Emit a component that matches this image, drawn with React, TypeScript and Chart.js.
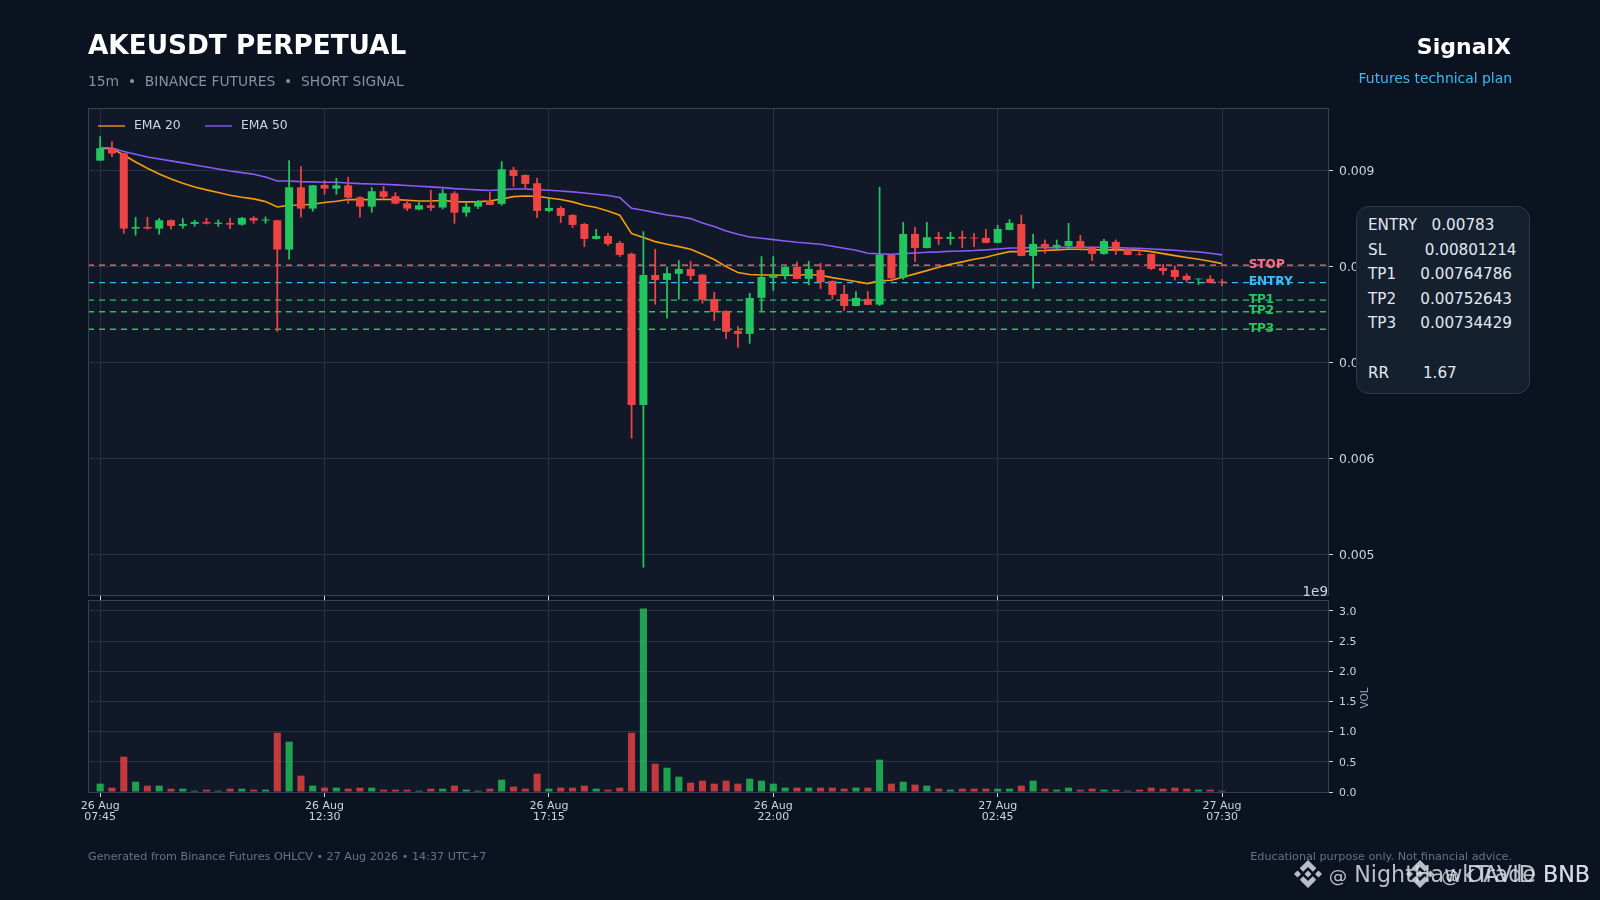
import React, { useEffect, useRef } from "react";
import { Chart, registerables } from "chart.js";

Chart.register(...registerables);

const FONT = '"DejaVu Sans", sans-serif';

const TITLE = "AKEUSDT PERPETUAL";
const SUBTITLE = "15m  •  BINANCE FUTURES  •  SHORT SIGNAL";
const BRAND = "SignalX";
const BRAND_SUB = "Futures technical plan";
const FOOT_LEFT = "Generated from Binance Futures OHLCV • 27 Aug 2026 • 14:37 UTC+7";
const FOOT_RIGHT = "Educational purpose only. Not financial advice.";
const INFO_LINES = [
  "ENTRY   0.00783",
  "SL        0.00801214",
  "TP1     0.00764786",
  "TP2     0.00752643",
  "TP3     0.00734429",
  " ",
  "RR       1.67",
];

const opens = [
  0.009101, 0.00923, 0.009177, 0.008393, 0.00841, 0.008393, 0.00848, 0.008421, 0.008441, 0.008462,
  0.008441, 0.008452, 0.008434, 0.008504, 0.008476, 0.00848, 0.008174, 0.008823, 0.008601, 0.008848,
  0.008809, 0.008844, 0.008719, 0.008622, 0.008782, 0.00873, 0.008657, 0.008591, 0.008636, 0.008612,
  0.008761, 0.008559, 0.008622, 0.008681, 0.00865, 0.009004, 0.008952, 0.008865, 0.008577, 0.008608,
  0.008535, 0.008441, 0.008285, 0.008316, 0.008244, 0.008132, 0.006556, 0.00791, 0.007858, 0.007921,
  0.007973, 0.007914, 0.00766, 0.007535, 0.007327, 0.007296, 0.007671, 0.00788, 0.00791, 0.007994,
  0.007869, 0.007962, 0.007848, 0.007712, 0.007587, 0.00766, 0.007601, 0.008119, 0.007882, 0.008337,
  0.008191, 0.008306, 0.008285, 0.008306, 0.008299, 0.008296, 0.008244, 0.008379, 0.008441, 0.008108,
  0.008233, 0.008202, 0.008212, 0.008264, 0.008202, 0.008129, 0.008254, 0.008178, 0.008125, 0.008129,
  0.007983, 0.007962, 0.0079, 0.007865, 0.007869, 0.007841,
];
const highs = [
  0.009351, 0.009299, 0.009177, 0.008511, 0.008511, 0.0085, 0.008483, 0.008497, 0.00848, 0.0085,
  0.008483, 0.0085, 0.008511, 0.008518, 0.008514, 0.00848, 0.009101, 0.009039, 0.008844, 0.008893,
  0.008917, 0.008928, 0.008726, 0.00882, 0.008834, 0.008768, 0.008698, 0.008664, 0.008792, 0.008803,
  0.008778, 0.008657, 0.008685, 0.008771, 0.009091, 0.009032, 0.008952, 0.008917, 0.008698, 0.008622,
  0.00854, 0.008448, 0.008386, 0.008344, 0.008261, 0.00814, 0.008362, 0.008178, 0.00799, 0.00806,
  0.008053, 0.007914, 0.00773, 0.007535, 0.007372, 0.007719, 0.008101, 0.008101, 0.007994, 0.008046,
  0.008053, 0.008032, 0.007848, 0.007803, 0.007737, 0.007737, 0.008823, 0.008119, 0.008459, 0.008407,
  0.008459, 0.008355, 0.008355, 0.008368, 0.008344, 0.008386, 0.008428, 0.008487, 0.008532, 0.008334,
  0.008275, 0.008275, 0.008448, 0.008323, 0.008202, 0.008282, 0.008275, 0.008188, 0.008171, 0.008129,
  0.008021, 0.008004, 0.007921, 0.007872, 0.007903, 0.007865,
];
const lows = [
  0.009101, 0.009143, 0.008344, 0.008323, 0.008386, 0.008334, 0.008386, 0.008396, 0.008417, 0.008441,
  0.008414, 0.008393, 0.008428, 0.008448, 0.008448, 0.00732, 0.008073, 0.008511, 0.008573, 0.00875,
  0.00875, 0.008657, 0.008511, 0.008563, 0.008702, 0.00865, 0.00858, 0.008587, 0.00858, 0.008598,
  0.008448, 0.008521, 0.008601, 0.008639, 0.008636, 0.00883, 0.008813, 0.008507, 0.00857, 0.008455,
  0.008403, 0.008205, 0.008282, 0.008216, 0.008101, 0.006209, 0.004865, 0.007605, 0.007459, 0.007657,
  0.007858, 0.007615, 0.007435, 0.007247, 0.007157, 0.007198, 0.007528, 0.007747, 0.007865, 0.007869,
  0.007806, 0.007768, 0.007657, 0.007539, 0.007587, 0.007598, 0.007591, 0.007865, 0.007865, 0.008049,
  0.008191, 0.008226, 0.008226, 0.008195, 0.008205, 0.008244, 0.008244, 0.008379, 0.008108, 0.007771,
  0.008136, 0.008171, 0.008184, 0.008164, 0.00806, 0.008125, 0.008122, 0.008119, 0.008115, 0.007966,
  0.007914, 0.007858, 0.007834, 0.00781, 0.007827, 0.007799,
];
const closes = [
  0.00923, 0.009174, 0.008393, 0.00841, 0.008393, 0.00848, 0.008421, 0.008441, 0.008462, 0.008445,
  0.008455, 0.008434, 0.008504, 0.008476, 0.008487, 0.008174, 0.008823, 0.008601, 0.008844, 0.008809,
  0.008844, 0.008716, 0.008622, 0.008782, 0.008723, 0.008653, 0.008601, 0.008636, 0.008608, 0.008761,
  0.008559, 0.008622, 0.008678, 0.008639, 0.009011, 0.008941, 0.008858, 0.008577, 0.008608, 0.008525,
  0.008431, 0.008285, 0.008316, 0.008233, 0.008119, 0.006556, 0.00791, 0.007858, 0.007928, 0.007973,
  0.0079, 0.00765, 0.007525, 0.007317, 0.007296, 0.007671, 0.007889, 0.00791, 0.007994, 0.007869,
  0.007973, 0.007834, 0.007702, 0.007587, 0.007671, 0.007598, 0.008119, 0.007875, 0.008337, 0.008191,
  0.008303, 0.008285, 0.008306, 0.008289, 0.008289, 0.008244, 0.008389, 0.008452, 0.008108, 0.008233,
  0.008202, 0.008223, 0.008264, 0.008191, 0.008129, 0.008264, 0.008178, 0.008119, 0.008119, 0.007973,
  0.007952, 0.007889, 0.007858, 0.007872, 0.007827, 0.00783,
];
const ema20 = [
  0.00923, 0.009226, 0.00916, 0.009087, 0.009021, 0.008962, 0.00891, 0.008865, 0.008827, 0.008796,
  0.008768, 0.00874, 0.008719, 0.008702, 0.008674, 0.008618, 0.008636, 0.008639, 0.008646, 0.008664,
  0.008678, 0.008695, 0.008695, 0.008695, 0.008698, 0.008695, 0.008688, 0.008681, 0.008681, 0.008685,
  0.008674, 0.008671, 0.008674, 0.008681, 0.008702, 0.008726, 0.008733, 0.00873, 0.008712, 0.008695,
  0.008671, 0.008636, 0.008612, 0.008577, 0.008532, 0.008341, 0.008299, 0.008257, 0.00823, 0.008205,
  0.008178, 0.008125, 0.00807, 0.007997, 0.007935, 0.007914, 0.00791, 0.00791, 0.007907, 0.007907,
  0.007914, 0.007907, 0.007882, 0.007862, 0.007841, 0.00782, 0.007851, 0.007855, 0.007889, 0.007921,
  0.007955, 0.00799, 0.008021, 0.008046, 0.008073, 0.008094, 0.008125, 0.008153, 0.008153, 0.00816,
  0.008164, 0.008171, 0.008178, 0.008178, 0.008174, 0.008171, 0.008171, 0.008171, 0.008167, 0.008153,
  0.008132, 0.008111, 0.008091, 0.008073, 0.008053, 0.008028,
];
const ema50 = [
  0.009237, 0.009233, 0.009195, 0.009167, 0.009139, 0.009118, 0.009098, 0.009077, 0.009056, 0.009035,
  0.009014, 0.008993, 0.008976, 0.008959, 0.008931, 0.008889, 0.008889, 0.008882, 0.008879, 0.008875,
  0.008875, 0.008868, 0.008861, 0.008858, 0.008855, 0.008848, 0.008841, 0.008834, 0.008827, 0.00882,
  0.008809, 0.008802, 0.008796, 0.008789, 0.008799, 0.008806, 0.008806, 0.008799, 0.008792, 0.008785,
  0.008775, 0.008764, 0.00875, 0.008737, 0.008716, 0.008605, 0.008584, 0.008559, 0.008535, 0.008518,
  0.008497, 0.008452, 0.008414, 0.008368, 0.008334, 0.008306, 0.008292, 0.008278, 0.008264, 0.00825,
  0.00824, 0.00823, 0.008209, 0.008188, 0.008167, 0.008136, 0.008129, 0.008125, 0.008132, 0.008139,
  0.008146, 0.00815, 0.008157, 0.00816, 0.008164, 0.008171, 0.008181, 0.008191, 0.008191, 0.008195,
  0.008195, 0.008195, 0.008198, 0.008198, 0.008198, 0.008198, 0.008195, 0.008191, 0.008188, 0.008181,
  0.008174, 0.008167, 0.008157, 0.00815, 0.008136, 0.008119,
];
// volume, in units of 1e9
const volumes = [
  0.138, 0.072, 0.586, 0.171, 0.105, 0.105, 0.055, 0.055, 0.022, 0.039,
  0.022, 0.055, 0.055, 0.039, 0.039, 0.983, 0.834, 0.271, 0.105, 0.072,
  0.072, 0.055, 0.072, 0.072, 0.039, 0.039, 0.039, 0.022, 0.055, 0.055,
  0.105, 0.039, 0.022, 0.055, 0.204, 0.088, 0.055, 0.304, 0.055, 0.072,
  0.072, 0.105, 0.055, 0.039, 0.072, 0.983, 3.04, 0.47, 0.403, 0.254,
  0.155, 0.188, 0.138, 0.188, 0.138, 0.221, 0.188, 0.138, 0.072, 0.072,
  0.072, 0.072, 0.072, 0.055, 0.072, 0.072, 0.536, 0.138, 0.171, 0.122,
  0.105, 0.055, 0.039, 0.055, 0.055, 0.055, 0.055, 0.055, 0.105, 0.188,
  0.055, 0.039, 0.072, 0.039, 0.055, 0.039, 0.039, 0.022, 0.039, 0.072,
  0.055, 0.072, 0.055, 0.039, 0.039, 0.022,
];

const timeTickIndex = [0, 19, 38, 57, 76, 95];
const timeTickLabels = [
  ["26 Aug", "07:45"],
  ["26 Aug", "12:30"],
  ["26 Aug", "17:15"],
  ["26 Aug", "22:00"],
  ["27 Aug", "02:45"],
  ["27 Aug", "07:30"],
];
const priceTicks = [0.005, 0.006, 0.007, 0.008, 0.009];
const volumeTicks = [0, 0.5, 1, 1.5, 2, 2.5, 3];

const levelNames = ["STOP", "ENTRY", "TP1", "TP2", "TP3"];
const levelValues = [0.00801214, 0.00783, 0.00764786, 0.00752643, 0.00734429];
const levelColors = ["#fb7185", "#38bdf8", "#22c55e", "#22c55e", "#22c55e"];

const UP = "#22c55e";
const DOWN = "#ef4444";
const UP_VOL = "rgba(34,197,94,0.8)";
const DOWN_VOL = "rgba(239,68,68,0.8)";
const PLOT_BG = "#111827";
const GRID = "#283342";
const FRAME = "#334155";
const TICK = "#cbd5e1";

const X_MIN = -1.03;
const X_MAX = 103.97;
const LEFT = 88;
const AXIS_W = 60;
const PAD_RIGHT = 212;

const isUp = (i: number) => closes[i] >= opens[i];

const panelPlugin = {
  id: "panel",
  beforeDraw(chart: any) {
    const { ctx, chartArea: a } = chart;
    ctx.save();
    ctx.fillStyle = PLOT_BG;
    ctx.fillRect(a.left, a.top, a.right - a.left, a.bottom - a.top);
    ctx.restore();
  },
  afterDraw(chart: any) {
    const { ctx, chartArea: a } = chart;
    ctx.save();
    ctx.strokeStyle = FRAME;
    ctx.lineWidth = 1;
    ctx.strokeRect(a.left + 0.5, a.top + 0.5, a.right - a.left, a.bottom - a.top);
    ctx.restore();
  },
};

const overlayPlugin = {
  id: "overlay",
  afterDatasetsDraw(chart: any) {
    const { ctx, scales } = chart;
    ctx.save();
    ctx.textBaseline = "middle";
    ctx.textAlign = "left";
    ctx.font = `bold 12.1px ${FONT}`;
    levelNames.forEach((name, i) => {
      ctx.fillStyle = levelColors[i];
      ctx.fillText(name, scales.x.getPixelForValue(97.25), scales.y.getPixelForValue(levelValues[i]) - 0.7);
    });
    // legend
    const y = chart.chartArea.top + 18;
    const items = chart.data.datasets.filter((d: any) => d.label);
    let x = chart.chartArea.left + 10;
    ctx.font = `12.4px ${FONT}`;
    items.forEach((d: any) => {
      ctx.strokeStyle = d.borderColor;
      ctx.globalAlpha = 0.85;
      ctx.lineWidth = 1.6;
      ctx.beginPath();
      ctx.moveTo(x, y);
      ctx.lineTo(x + 27, y);
      ctx.stroke();
      ctx.globalAlpha = 1;
      ctx.fillStyle = TICK;
      ctx.fillText(d.label, x + 36, y);
      x += 107;
    });
    ctx.restore();
  },
};

const xScale = (withLabels: boolean, height: number) => ({
  type: "linear",
  min: X_MIN,
  max: X_MAX,
  offset: false,
  afterBuildTicks: (s: any) => {
    s.ticks = timeTickIndex.map((value) => ({ value }));
  },
  afterFit: (s: any) => {
    s.height = height;
    s.paddingLeft = 0;
    s.paddingRight = 0;
  },
  grid: { color: GRID, tickColor: TICK, tickLength: 5, lineWidth: 1, offset: false },
  border: { display: false },
  ticks: {
    display: withLabels,
    autoSkip: false,
    maxRotation: 0,
    padding: 4,
    color: TICK,
    font: { family: FONT, size: 11, lineHeight: 0.98 },
    callback: (v: any) => timeTickLabels[timeTickIndex.indexOf(Number(v))],
  },
});

const yScale = (min: number, max: number, ticks: number[], digits: number, size: number, labelOffset: number) => ({
  type: "linear",
  position: "right",
  min,
  max,
  afterBuildTicks: (s: any) => {
    s.ticks = ticks.map((value) => ({ value }));
  },
  afterFit: (s: any) => {
    s.width = AXIS_W;
    s.paddingTop = 0;
    s.paddingBottom = 0;
  },
  grid: { color: GRID, tickColor: TICK, tickLength: 5, lineWidth: 1 },
  border: { display: false },
  ticks: {
    padding: 6,
    labelOffset,
    color: TICK,
    font: { family: FONT, size },
    callback: (v: any) => Number(v).toFixed(digits),
  },
});

export default function App() {
  const mainRef = useRef<HTMLCanvasElement>(null);
  const volRef = useRef<HTMLCanvasElement>(null);

  useEffect(() => {
    const idx = opens.map((_, i) => i);
    const candleColors = idx.map((i) => (isUp(i) ? UP : DOWN));
    const main = new Chart(mainRef.current as any, {
      data: {
        datasets: [
          ...levelValues.map((v, i) => ({
            type: "line",
            data: [
              { x: X_MIN, y: v },
              { x: X_MAX, y: v },
            ],
            borderColor: levelColors[i],
            borderWidth: 1.3,
            borderDash: [6, 5],
            pointRadius: 0,
            order: 5,
          })),
          {
            type: "line",
            label: "EMA 20",
            data: idx.map((i) => ({ x: i, y: ema20[i] })),
            borderColor: "#f59e0b",
            borderWidth: 1.6,
            pointRadius: 0,
            order: 4,
          },
          {
            type: "line",
            label: "EMA 50",
            data: idx.map((i) => ({ x: i, y: ema50[i] })),
            borderColor: "#8b5cf6",
            borderWidth: 1.6,
            pointRadius: 0,
            order: 3,
          },
          {
            type: "bar",
            data: idx.map((i) => ({ x: i, y: [lows[i], highs[i]] })),
            backgroundColor: candleColors,
            barThickness: 1.1,
            grouped: false,
            order: 2,
          },
          {
            type: "bar",
            data: idx.map((i) => ({ x: i, y: [opens[i], closes[i]] })),
            backgroundColor: candleColors,
            barPercentage: 0.68,
            categoryPercentage: 1,
            grouped: false,
            order: 1,
          },
        ],
      } as any,
      options: {
        responsive: false,
        animation: false,
        events: [],
        layout: { padding: { left: LEFT, right: PAD_RIGHT, top: 108, bottom: 0 } },
        plugins: { legend: { display: false }, tooltip: { enabled: false } },
        scales: {
          x: xScale(false, 6),
          y: yScale(0.004576, 0.009649, priceTicks, 3, 12.4, 1.5),
        },
      } as any,
      plugins: [panelPlugin, overlayPlugin],
    });

    const vol = new Chart(volRef.current as any, {
      data: {
        datasets: [
          {
            type: "bar",
            data: idx.map((i) => ({ x: i, y: volumes[i] })),
            backgroundColor: idx.map((i) => (isUp(i) ? UP_VOL : DOWN_VOL)),
            barPercentage: 0.6,
            categoryPercentage: 1,
          },
        ],
      } as any,
      options: {
        responsive: false,
        animation: false,
        events: [],
        layout: { padding: { left: LEFT, right: PAD_RIGHT, top: 4, bottom: 68 } },
        plugins: { legend: { display: false }, tooltip: { enabled: false } },
        scales: {
          x: xScale(true, 40),
          y: yScale(0, 3.182, volumeTicks, 1, 10.9, 1),
        },
      } as any,
      plugins: [panelPlugin],
    });

    return () => {
      main.destroy();
      vol.destroy();
    };
  }, []);

  const text = (
    s: React.ReactNode,
    baseline: number,
    size: number,
    color: string,
    pos: { left?: number; right?: number },
    weight: number = 400,
  ) => (
    <div
      style={{
        position: "absolute",
        top: baseline - 0.846 * size,
        ...pos,
        fontFamily: FONT,
        fontSize: size,
        lineHeight: 1,
        fontWeight: weight,
        color,
        whiteSpace: "pre",
      }}
    >
      {s}
    </div>
  );

  const logo = (cx: number) => (
    <svg
      viewBox="0 0 32 32"
      width={28}
      height={28}
      style={{ position: "absolute", left: cx - 14, top: 860, opacity: 0.85 }}
    >
      <g fill="#d9dee6">
        <polygon points="16,0 25.5,9.5 21.5,13.5 16,8 10.5,13.5 6.5,9.5" />
        <polygon points="16,32 25.5,22.5 21.5,18.5 16,24 10.5,18.5 6.5,22.5" />
        <polygon points="4,12 8,16 4,20 0,16" />
        <polygon points="28,12 32,16 28,20 24,16" />
        <polygon points="16,12 20,16 16,20 12,16" />
      </g>
    </svg>
  );

  const at = <span style={{ fontSize: 18.5 }}>@</span>;

  return (
    <div
      style={{
        position: "fixed",
        left: 0,
        top: 0,
        width: 1600,
        height: 900,
        background: "#0b1220",
        overflow: "hidden",
      }}
    >
      <canvas ref={volRef} width={1600} height={304} style={{ position: "absolute", left: 0, top: 596 }} />
      <canvas ref={mainRef} width={1600} height={601} style={{ position: "absolute", left: 0, top: 0 }} />

      {text(TITLE, 54, 26.3, "#ffffff", { left: 88 }, 700)}
      {text(SUBTITLE, 86.5, 13.85, "#8591a2", { left: 88 })}
      {text(BRAND, 54.5, 22, "#ffffff", { right: 89 }, 700)}
      {text(BRAND_SUB, 83.7, 13.9, "#38bdf8", { right: 88 })}
      {text("1e9", 596, 13.5, TICK, { right: 272 })}
      <div
        style={{
          position: "absolute",
          left: 1364,
          top: 698,
          fontFamily: FONT,
          fontSize: 10.5,
          lineHeight: 1,
          color: "#94a3b8",
          transform: "translate(-50%,-50%) rotate(-90deg)",
        }}
      >
        VOL
      </div>

      <div
        style={{
          position: "absolute",
          left: 1356,
          top: 206,
          width: 172,
          height: 186,
          boxSizing: "content-box",
          background: "#15202f",
          border: "1px solid #2d3a4b",
          borderRadius: 13,
        }}
      />
      <div
        style={{
          position: "absolute",
          left: 1368,
          top: 213,
          fontFamily: FONT,
          fontSize: 15.2,
          lineHeight: "24.6px",
          color: "#e2e8f0",
          whiteSpace: "pre",
        }}
      >
        {INFO_LINES.map((l, i) => (
          <div key={i}>{l}</div>
        ))}
      </div>

      {text(FOOT_LEFT, 860, 11.2, "#64748b", { left: 88 })}
      {text(FOOT_RIGHT, 860, 11.2, "#64748b", { right: 88 })}

      {logo(1308)}
      {logo(1420)}
      {text(<>{at} NightHawkTrade BNB</>, 882, 22.2, "rgba(217,222,230,0.85)", { right: 10 })}
      {text(<>{at} DAVID BNB</>, 882, 22.2, "rgba(217,222,230,0.85)", { right: 10 })}
    </div>
  );
}
